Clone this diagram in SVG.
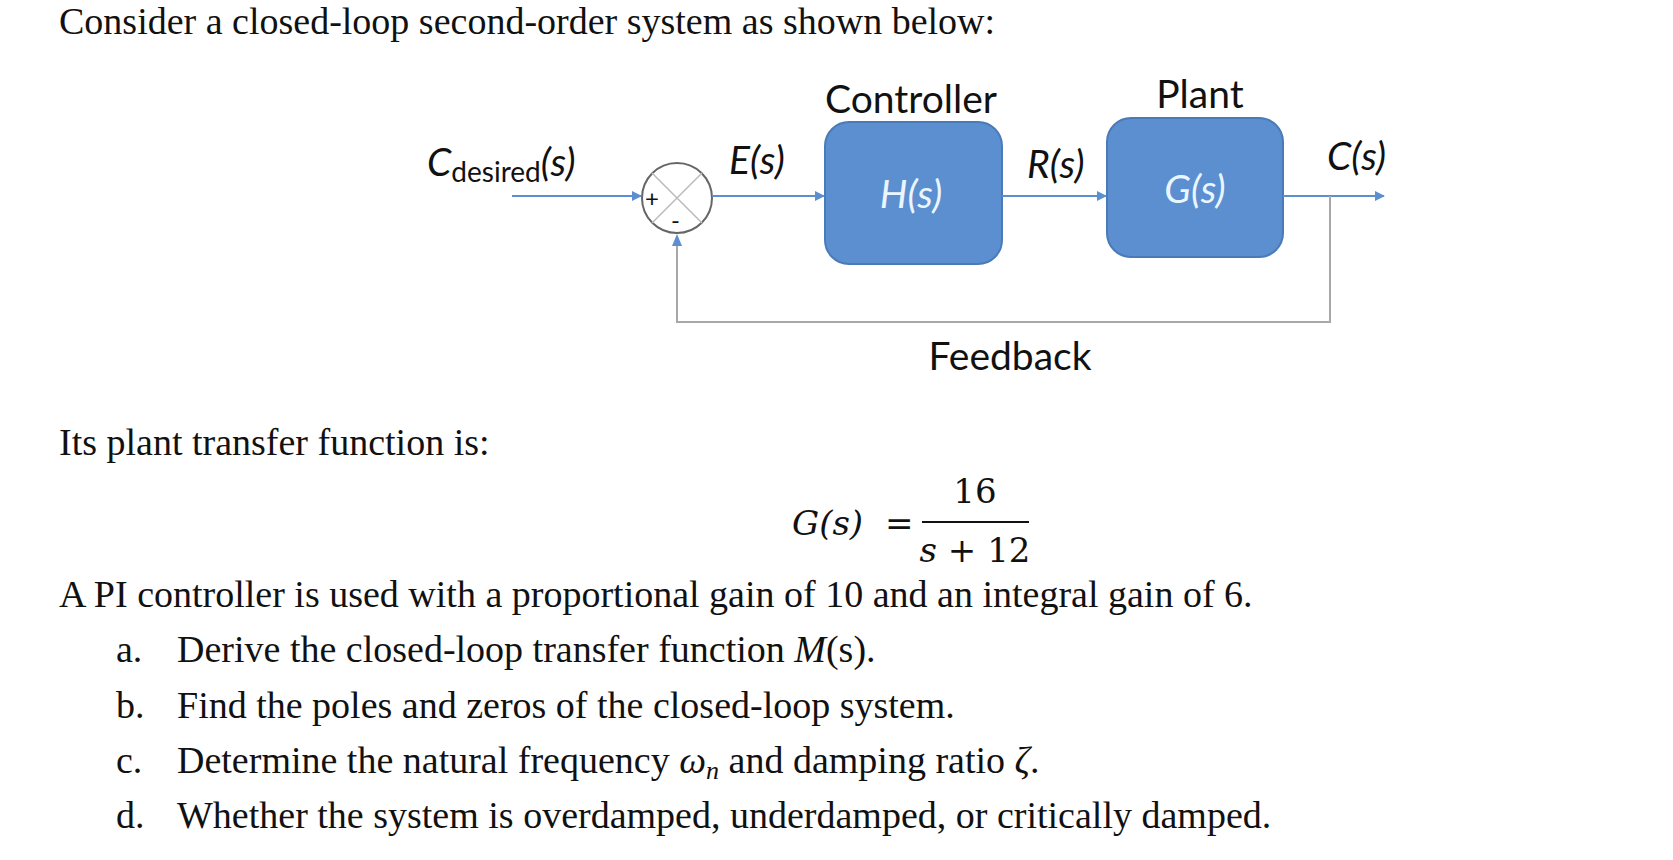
<svg xmlns="http://www.w3.org/2000/svg" width="1673" height="860" viewBox="0 0 1673 860">
<style>
.t{font-family:"Liberation Serif",serif;font-size:38px;fill:#111}
.d{font-family:Lato,"Open Sans",sans-serif;font-size:39px;fill:#111}
.w{font-family:Lato,"Open Sans",sans-serif;font-size:39px;fill:#eaf6ff;font-style:italic}
.m{font-family:"DejaVu Serif",serif;font-size:34px;fill:#111}
.box{fill:#5b8fd0;stroke:#4a7bb8;stroke-width:2}
.ln{stroke:#5b8fd0;stroke-width:2;fill:none}
.fb{stroke:#a8a8a8;stroke-width:2;fill:none}
</style>
<defs><marker id="a" markerWidth="12" markerHeight="12" refX="9" refY="6" orient="auto" markerUnits="userSpaceOnUse"><path d="M0,1 L10,6 L0,11 z" fill="#5b8fd0"/></marker></defs>
<rect width="1673" height="860" fill="#fff"/>
<text class="t" x="59" y="34">Consider a closed-loop second-order system as shown below:</text>
<g id="sum"><circle cx="677" cy="198" r="35" fill="#fff" stroke="#666" stroke-width="2"/>
<path d="M652,173 L702,223 M702,173 L652,223" stroke="#bbb" stroke-width="1.5"/>
<text x="645" y="207" font-family="Lato,sans-serif" font-size="24" fill="#111">+</text>
<text x="671" y="229" font-family="Lato,sans-serif" font-size="24" fill="#111">-</text></g>
<g id="controller"><rect class="box" x="825" y="122" width="177" height="142" rx="24"/>
<text class="d" x="911" y="113" text-anchor="middle">Controller</text>
<text class="w" x="911" y="208" text-anchor="middle">H(s)</text></g>
<g id="plant"><rect class="box" x="1107" y="118" width="176" height="139" rx="24"/>
<text class="d" x="1200" y="108" text-anchor="middle">Plant</text>
<text class="w" x="1195" y="203" text-anchor="middle">G(s)</text></g>
<g id="connectors">
<line class="ln" x1="512" y1="196" x2="641" y2="196" marker-end="url(#a)"/>
<line class="ln" x1="712" y1="196" x2="824" y2="196" marker-end="url(#a)"/>
<line class="ln" x1="1002" y1="196" x2="1106" y2="196" marker-end="url(#a)"/>
<line class="ln" x1="1283" y1="196" x2="1384" y2="196" marker-end="url(#a)"/>
<path class="fb" d="M1330,196 V322 H677 V245"/>
<path d="M672,246 L677,234 L682,246 z" fill="#5b8fd0"/>
</g>
<text class="d" x="427" y="176" font-style="italic">C<tspan font-size="28" font-style="normal" dy="6">desired</tspan><tspan dy="-6">(s)</tspan></text>
<text class="d" x="729" y="174" font-style="italic">E(s)</text>
<text class="d" x="1027" y="178" font-style="italic">R(s)</text>
<text class="d" x="1327" y="170" font-style="italic">C(s)</text>
<text class="d" x="1010" y="370" text-anchor="middle">Feedback</text>
<text class="t" x="59" y="455">Its plant transfer function is:</text>
<text class="m" x="792" y="535" font-style="italic">G(s)</text>
<text class="m" x="885" y="535">=</text>
<text class="m" x="975" y="503" text-anchor="middle">16</text>
<line x1="922" y1="522" x2="1029" y2="522" stroke="#111" stroke-width="2"/>
<text class="m" x="975" y="562" text-anchor="middle"><tspan font-style="italic">s</tspan> + 12</text>
<text class="t" x="59" y="607">A PI controller is used with a proportional gain of 10 and an integral gain of 6.</text>
<text class="t" x="116" y="662">a.</text><text class="t" x="177" y="662">Derive the closed-loop transfer function <tspan font-style="italic">M</tspan>(s).</text>
<text class="t" x="116" y="718">b.</text><text class="t" x="177" y="718">Find the poles and zeros of the closed-loop system.</text>
<text class="t" x="116" y="773">c.</text><text class="t" x="177" y="773">Determine the natural frequency <tspan font-style="italic">ω</tspan><tspan font-style="italic" font-size="26" dy="6">n</tspan><tspan dy="-6"> and damping ratio </tspan><tspan font-style="italic">ζ</tspan>.</text>
<text class="t" x="116" y="828">d.</text><text class="t" x="177" y="828">Whether the system is overdamped, underdamped, or critically damped.</text>
</svg>
